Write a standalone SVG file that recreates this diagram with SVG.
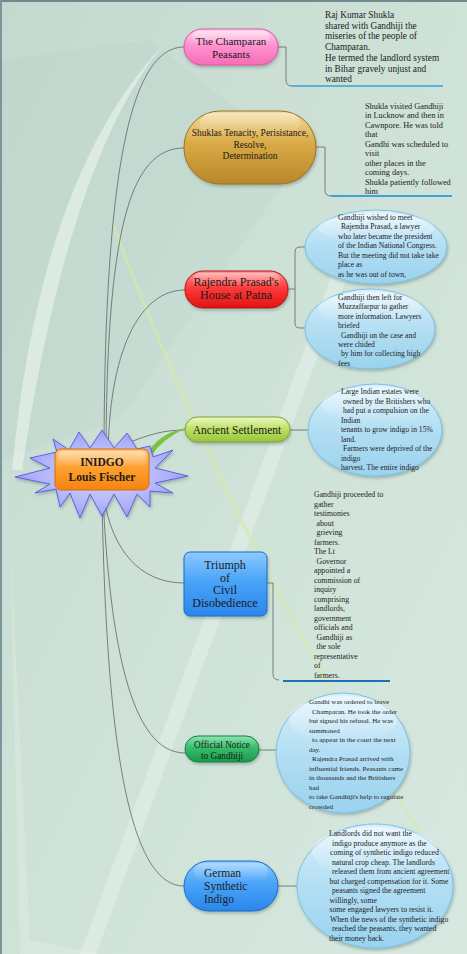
<svg xmlns="http://www.w3.org/2000/svg" width="467" height="954" viewBox="0 0 467 954">
<defs>
<linearGradient id="bg" x1="0" y1="0" x2="1" y2="1">
<stop offset="0" stop-color="#c3d9cf"/><stop offset="0.5" stop-color="#cfe2d8"/><stop offset="1" stop-color="#d6e8df"/>
</linearGradient>
<linearGradient id="gPink" x1="0" y1="0" x2="0" y2="1"><stop offset="0" stop-color="#ffd0ea"/><stop offset="0.45" stop-color="#ff93cf"/><stop offset="1" stop-color="#f56cb8"/></linearGradient>
<linearGradient id="gGold" x1="0" y1="0" x2="0" y2="1"><stop offset="0" stop-color="#f3dc9c"/><stop offset="0.45" stop-color="#d9a946"/><stop offset="1" stop-color="#b8882a"/></linearGradient>
<linearGradient id="gRed" x1="0" y1="0" x2="0" y2="1"><stop offset="0" stop-color="#ff9c9c"/><stop offset="0.45" stop-color="#ff3a3a"/><stop offset="1" stop-color="#e01414"/></linearGradient>
<linearGradient id="gLime" x1="0" y1="0" x2="0" y2="1"><stop offset="0" stop-color="#eef8c8"/><stop offset="0.45" stop-color="#bfe169"/><stop offset="1" stop-color="#98c43c"/></linearGradient>
<linearGradient id="gBlue" x1="0" y1="0" x2="0" y2="1"><stop offset="0" stop-color="#8ccaff"/><stop offset="0.45" stop-color="#4aa4f8"/><stop offset="1" stop-color="#2a86ea"/></linearGradient>
<linearGradient id="gGreen" x1="0" y1="0" x2="0" y2="1"><stop offset="0" stop-color="#8fe6b2"/><stop offset="0.45" stop-color="#36bd6b"/><stop offset="1" stop-color="#1a9a4a"/></linearGradient>
<linearGradient id="gOrange" x1="0" y1="0" x2="0" y2="1"><stop offset="0" stop-color="#ffc578"/><stop offset="0.45" stop-color="#ffa030"/><stop offset="1" stop-color="#f58412"/></linearGradient>
<radialGradient id="gStar" cx="0.5" cy="0.5" r="0.6"><stop offset="0" stop-color="#d8d9fd"/><stop offset="0.6" stop-color="#b2b4f9"/><stop offset="1" stop-color="#8a8ef2"/></radialGradient>
<linearGradient id="gBub" x1="0" y1="0" x2="0" y2="1"><stop offset="0" stop-color="#d8f0fb"/><stop offset="0.5" stop-color="#b3def3"/><stop offset="1" stop-color="#9ad2ee"/></linearGradient>
<linearGradient id="gGloss" x1="0" y1="0" x2="0" y2="1"><stop offset="0" stop-color="#ffffff" stop-opacity="0.75"/><stop offset="1" stop-color="#ffffff" stop-opacity="0"/></linearGradient>
<filter id="sh" x="-20%" y="-20%" width="140%" height="150%"><feDropShadow dx="1" dy="2" stdDeviation="1.5" flood-color="#3a5a50" flood-opacity="0.35"/></filter>
<style>
.t{font-family:"Liberation Serif","Times New Roman",serif;fill:#1c1c1c}
.n{font-family:"Liberation Serif","Times New Roman",serif;fill:#1a1a1a;text-anchor:middle}
.c{fill:none;stroke:#5e6663;stroke-width:0.8}
.b{fill:url(#gBub);stroke:#7cc2e6;stroke-width:1}
.ul{stroke-width:2;fill:none}
</style>
</defs>
<rect width="467" height="954" fill="url(#bg)"/>
<!-- background decoration -->
<path d="M0,60 L150,40 L300,160 L120,420 L0,460 Z" fill="#b8d0c6" opacity="0.25"/>
<path d="M12,470 Q40,170 168,40 Q70,150 22,470 Z" fill="#eef7f2" opacity="0.55"/>
<path d="M80,954 L96,954 L372,210 L356,210 Z" fill="#f2faf6" opacity="0.35"/>
<path d="M10,540 L30,940 L100,954 L20,954 Z" fill="#eef7f2" opacity="0.25"/>
<path d="M113,225 Q240,560 420,832" fill="none" stroke="#d6e9a6" stroke-width="3" opacity="0.65"/>
<rect x="0" y="0" width="467" height="2" fill="#6f8a8d"/>
<rect x="0" y="0" width="2" height="954" fill="#7b9699"/>

<g id="connectors">
<path class="c" d="M104,462 C104,200 125,47 184,47"/>
<path class="c" d="M106,462 C106,230 130,148 184,148"/>
<path class="c" d="M108,462 C108,350 140,290 185,290"/>
<path class="c" d="M128,443 C150,434 165,430 185,430"/>
<path d="M146,456 Q158,433 186,428 Q162,439 150,457 Z" fill="#7cc242"/>
<path class="c" d="M104,498 C112,550 140,583 184,583"/>
<path class="c" d="M103,498 C110,640 130,753 185,753"/>
<path class="c" d="M102,498 C106,720 125,886 184,886"/>
<path class="c" d="M278,47 H286 V80 Q286,86 292,86"/>
<path class="ul" stroke="#5ab2da" d="M292,86 H443"/>
<path class="c" d="M316,147 H325 V190 Q325,196 331,196"/>
<path class="ul" stroke="#3ea2d2" d="M331,196 H452"/>
<path class="c" d="M288,289 H295"/>
<path class="c" d="M305,247 H300 Q295,247 295,252 V323 Q295,328 300,328 H306"/>
<path class="c" d="M290,430 H309"/>
<path class="c" d="M267,583 H273 V674 Q273,680 279,680"/>
<path class="ul" stroke="#1d6fb8" d="M283,681 H390"/>
<path class="c" d="M259,750 H277"/>
<path class="c" d="M278,886 H298"/>
</g>

<g id="center">
<polygon points="15,477 50,468 30,458 57,452 53,439 69,450 79,432 90,448 102,430 114,448 127,433 137,449 150,446 153,457 173,450 155,468 188,476 155,483 173,493 150,491 150,507 137,494 127,517 114,494 102,516 90,494 80,518 70,493 60,507 56,489 35,493 50,484" fill="url(#gStar)" stroke="#5f63e4" stroke-width="1" stroke-linejoin="miter" filter="url(#sh)"/>
<rect x="55" y="449" width="94" height="41" rx="6" fill="url(#gOrange)" stroke="#d96c04" stroke-width="1"/>
<rect x="58" y="451" width="88" height="16" rx="5" fill="url(#gGloss)" opacity="0.6"/>
<text class="n" x="102" y="466" font-size="11.5" font-weight="bold">INIDGO</text>
<text class="n" x="102" y="481" font-size="11.5" font-weight="bold">Louis Fischer</text>
</g>

<g id="n1">
<rect x="184" y="29" width="94" height="36" rx="18" fill="url(#gPink)" stroke="#e0529e" filter="url(#sh)"/>
<rect x="192" y="31" width="78" height="14" rx="7" fill="url(#gGloss)" opacity="0.6"/>
<text class="n" x="231" y="45" font-size="11">The Champaran</text>
<text class="n" x="231" y="58" font-size="11">Peasants</text>
</g>
<g id="t1">
<text class="t" x="325" y="18" font-size="9.3">Raj Kumar Shukla</text>
<text class="t" x="325" y="28.7" font-size="9.3">shared with Gandhiji the</text>
<text class="t" x="325" y="39.4" font-size="9.3">miseries of the people of</text>
<text class="t" x="325" y="50.1" font-size="9.3">Champaran.</text>
<text class="t" x="325" y="60.8" font-size="9.3">He termed the landlord system</text>
<text class="t" x="325" y="71.5" font-size="9.3">in Bihar gravely unjust and</text>
<text class="t" x="325" y="82.2" font-size="9.3">wanted</text>
</g>

<g id="n2">
<rect x="184" y="111" width="132" height="73" rx="36" fill="url(#gGold)" stroke="#9a7424" filter="url(#sh)"/>
<rect x="200" y="113" width="100" height="22" rx="11" fill="url(#gGloss)" opacity="0.5"/>
<text class="n" x="250" y="136" font-size="9.5">Shuklas Tenacity, Perisistance,</text>
<text class="n" x="250" y="148" font-size="9.5">Resolve,</text>
<text class="n" x="250" y="159" font-size="9.5">Determination</text>
</g>
<g id="t2">
<text class="t" x="365" y="108.5" font-size="8.3">Shukla visited Gandhiji</text>
<text class="t" x="365" y="118" font-size="8.3">in Lucknow and then in</text>
<text class="t" x="365" y="127.5" font-size="8.3">Cawnpore. He was told</text>
<text class="t" x="365" y="137" font-size="8.3">that</text>
<text class="t" x="365" y="146.5" font-size="8.3">Gandhi was scheduled to</text>
<text class="t" x="365" y="156" font-size="8.3">visit</text>
<text class="t" x="365" y="165.5" font-size="8.3">other places in the</text>
<text class="t" x="365" y="175" font-size="8.3">coming days.</text>
<text class="t" x="365" y="184.5" font-size="8.3">Shukla patiently followed</text>
<text class="t" x="365" y="194" font-size="8.3">him</text>
</g>

<g id="n3">
<rect x="185" y="271" width="103" height="37" rx="18" fill="url(#gRed)" stroke="#b50d0d" filter="url(#sh)"/>
<rect x="193" y="273" width="87" height="14" rx="7" fill="url(#gGloss)" opacity="0.5"/>
<text class="n" x="236" y="286" font-size="12">Rajendra Prasad's</text>
<text class="n" x="236" y="299" font-size="12">House at Patna</text>
</g>
<g id="b1">
<ellipse class="b" cx="376" cy="247" rx="71" ry="37" filter="url(#sh)"/>
<ellipse cx="376" cy="228" rx="58" ry="15" fill="url(#gGloss)" opacity="0.7"/>
<text class="t" font-size="7.6" x="338" y="219.5">Gandhiji wished to meet</text>
<text class="t" font-size="7.6" x="341" y="229">Rajendra Prasad, a lawyer</text>
<text class="t" font-size="7.6" x="338" y="238.5">who later became the president</text>
<text class="t" font-size="7.6" x="338" y="248">of the Indian National Congress.</text>
<text class="t" font-size="7.6" x="338" y="257.5">But the meeting did not take take</text>
<text class="t" font-size="7.6" x="338" y="267">place as</text>
<text class="t" font-size="7.6" x="338" y="276.5">as he was out of town,</text>
</g>
<g id="b2">
<ellipse class="b" cx="370" cy="329" rx="65" ry="40" filter="url(#sh)"/>
<ellipse cx="370" cy="308" rx="52" ry="16" fill="url(#gGloss)" opacity="0.7"/>
<text class="t" font-size="7.6" x="338" y="300">Gandhiji then left for</text>
<text class="t" font-size="7.6" x="338" y="309.4">Muzzaffarpur to gather</text>
<text class="t" font-size="7.6" x="338" y="318.8">more information. Lawyers</text>
<text class="t" font-size="7.6" x="338" y="328.2">briefed</text>
<text class="t" font-size="7.6" x="341" y="337.6">Gandhiji on the case and</text>
<text class="t" font-size="7.6" x="338" y="347">were chided</text>
<text class="t" font-size="7.6" x="341" y="356.4">by him for collecting high</text>
<text class="t" font-size="7.6" x="338" y="365.8">fees</text>
</g>

<g id="n4">
<rect x="185" y="417" width="105" height="25" rx="12.5" fill="url(#gLime)" stroke="#7aa52c" filter="url(#sh)"/>
<text class="n" x="237" y="434" font-size="11.5">Ancient Settlement</text>
</g>
<g id="b3">
<ellipse class="b" cx="375" cy="430" rx="67" ry="46" filter="url(#sh)"/>
<ellipse cx="375" cy="405" rx="54" ry="18" fill="url(#gGloss)" opacity="0.7"/>
<text class="t" font-size="7.6" x="341" y="394">Large Indian estates were</text>
<text class="t" font-size="7.6" x="343" y="403.5">owned by the Britishers who</text>
<text class="t" font-size="7.6" x="343" y="413">had put a compulsion on the</text>
<text class="t" font-size="7.6" x="341" y="422.5">Indian</text>
<text class="t" font-size="7.6" x="341" y="432">tenants to grow indigo in 15%</text>
<text class="t" font-size="7.6" x="341" y="441.5">land.</text>
<text class="t" font-size="7.6" x="343" y="451">Farmers were deprived of the</text>
<text class="t" font-size="7.6" x="341" y="460.5">indigo</text>
<text class="t" font-size="7.6" x="341" y="470">harvest. The entire indigo</text>
</g>

<g id="n5">
<rect x="184" y="552" width="83" height="64" rx="6" fill="url(#gBlue)" stroke="#1c6cc8" filter="url(#sh)"/>
<text class="n" x="225" y="569" font-size="12">Triumph</text>
<text class="n" x="225" y="581.5" font-size="12">of</text>
<text class="n" x="225" y="594" font-size="12">Civil</text>
<text class="n" x="225" y="606.5" font-size="12">Disobedience</text>
</g>
<g id="t5">
<text class="t" font-size="7.8" x="314" y="497">Gandhiji proceeded to</text>
<text class="t" font-size="7.8" x="314" y="506.5">gather</text>
<text class="t" font-size="7.8" x="314" y="516">testimonies</text>
<text class="t" font-size="7.8" x="316.5" y="525.5">about</text>
<text class="t" font-size="7.8" x="316.5" y="535">grieving</text>
<text class="t" font-size="7.8" x="314" y="544.5">farmers.</text>
<text class="t" font-size="7.8" x="314" y="554">The Lt</text>
<text class="t" font-size="7.8" x="316.5" y="563.5">Governor</text>
<text class="t" font-size="7.8" x="314" y="573">appointed a</text>
<text class="t" font-size="7.8" x="314" y="582.5">commission of</text>
<text class="t" font-size="7.8" x="314" y="592">inquiry</text>
<text class="t" font-size="7.8" x="314" y="601.5">comprising</text>
<text class="t" font-size="7.8" x="314" y="611">landlords,</text>
<text class="t" font-size="7.8" x="314" y="620.5">government</text>
<text class="t" font-size="7.8" x="314" y="630">officials and</text>
<text class="t" font-size="7.8" x="316.5" y="639.5">Gandhiji as</text>
<text class="t" font-size="7.8" x="316.5" y="649">the sole</text>
<text class="t" font-size="7.8" x="314" y="658.5">representative</text>
<text class="t" font-size="7.8" x="314" y="668">of</text>
<text class="t" font-size="7.8" x="314" y="677.5">farmers.</text>
</g>

<g id="n6">
<rect x="185" y="736" width="74" height="26" rx="13" fill="url(#gGreen)" stroke="#138040" filter="url(#sh)"/>
<text class="n" x="222" y="748" font-size="9.3">Official Notice</text>
<text class="n" x="222" y="759" font-size="9.3">to Gandhiji</text>
</g>
<g id="b6">
<ellipse class="b" cx="343" cy="753" rx="67" ry="60" filter="url(#sh)"/>
<ellipse cx="343" cy="720" rx="54" ry="24" fill="url(#gGloss)" opacity="0.7"/>
<text class="t" font-size="7" x="309" y="704">Gandhi was ordered to leave</text>
<text class="t" font-size="7" x="312" y="713.5">Champaran. He took the order</text>
<text class="t" font-size="7" x="309" y="723">but signed his refusal. He was</text>
<text class="t" font-size="7" x="309" y="732.5">summoned</text>
<text class="t" font-size="7" x="312" y="742">to appear in the court the next</text>
<text class="t" font-size="7" x="309" y="751.5">day.</text>
<text class="t" font-size="7" x="312" y="761">Rajendra Prasad arrived with</text>
<text class="t" font-size="7" x="309" y="770.5">influential friends. Peasants came</text>
<text class="t" font-size="7" x="309" y="780">in thousands and the Britishers</text>
<text class="t" font-size="7" x="309" y="789.5">had</text>
<text class="t" font-size="7" x="309" y="799">to take Gandhiji's help to regulate</text>
<text class="t" font-size="7" x="309" y="808.5">crowded</text>
</g>

<g id="n7">
<rect x="184" y="861" width="94" height="50" rx="25" fill="url(#gBlue)" stroke="#1c6cc8" filter="url(#sh)"/>
<rect x="194" y="863" width="74" height="18" rx="9" fill="url(#gGloss)" opacity="0.45"/>
<text class="t" x="204" y="877" font-size="11.5">German</text>
<text class="t" x="204" y="890" font-size="11.5">Synthetic</text>
<text class="t" x="204" y="903" font-size="11.5">Indigo</text>
</g>
<g id="b7">
<ellipse class="b" cx="375" cy="886" rx="78" ry="62" filter="url(#sh)"/>
<ellipse cx="375" cy="852" rx="63" ry="25" fill="url(#gGloss)" opacity="0.7"/>
<text class="t" font-size="7.7" x="329" y="836">Landlords did not want the</text>
<text class="t" font-size="7.7" x="332" y="845.5">indigo produce anymore as the</text>
<text class="t" font-size="7.7" x="330" y="855">coming of synthetic indigo reduced</text>
<text class="t" font-size="7.7" x="332" y="864.5">natural crop cheap. The landlords</text>
<text class="t" font-size="7.7" x="332" y="874">released them from ancient agreement</text>
<text class="t" font-size="7.7" x="329.5" y="883.5">but charged compensation for it. Some</text>
<text class="t" font-size="7.7" x="332" y="893">peasants signed the agreement</text>
<text class="t" font-size="7.7" x="329.5" y="902.5">willingly, some</text>
<text class="t" font-size="7.7" x="329.5" y="912">some engaged lawyers to resist it.</text>
<text class="t" font-size="7.7" x="330" y="921.5">When the news of the synthetic indigo</text>
<text class="t" font-size="7.7" x="332" y="931">reached the peasants, they wanted</text>
<text class="t" font-size="7.7" x="329" y="940.5">their money back.</text>
</g>
</svg>
